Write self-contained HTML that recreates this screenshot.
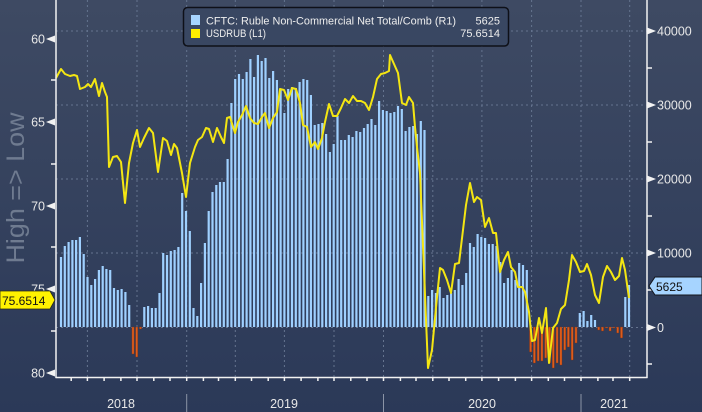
<!DOCTYPE html>
<html><head><meta charset="utf-8"><style>
html,body{margin:0;padding:0;background:#34425e;}
body{width:702px;height:412px;overflow:hidden;}
svg{display:block;font-family:"Liberation Sans",sans-serif;}
</style></head><body>
<svg width="702" height="412" viewBox="0 0 702 412" xmlns="http://www.w3.org/2000/svg">
<defs><linearGradient id="bg" x1="0" y1="0" x2="0" y2="1"><stop offset="0" stop-color="#3e4a63"/><stop offset="1" stop-color="#2b3958"/></linearGradient></defs>
<rect width="702" height="412" fill="url(#bg)"/>
<!-- grid -->
<g stroke="#65748f" stroke-width="1" stroke-dasharray="2 3" fill="none">
<path d="M56 31H647M56 105H647M56 179H647M56 253H647M56 327.5H647"/>
<path d="M87.4 0V377M137 0V377M186.7 0V377M235.3 0V377M284.4 0V377M334 0V377M383.5 0V377M432.8 0V377M481.9 0V377M531.6 0V377M581 0V377M629.7 0V377"/>
</g>
<!-- bars -->
<path fill="#9fd0ff" d="M59.9 257h2.2V327h-2.2zM63.7 246h2.2V327h-2.2zM67.5 242h2.2V327h-2.2zM71.3 240h2.2V327h-2.2zM75 240h2.2V327h-2.2zM78.8 237h2.2V327h-2.2zM82.6 254h2.2V327h-2.2zM86.4 277h2.2V327h-2.2zM90.2 285h2.2V327h-2.2zM94 279h2.2V327h-2.2zM97.8 270h2.2V327h-2.2zM101.6 266h2.2V327h-2.2zM105.3 269h2.2V327h-2.2zM109.1 270h2.2V327h-2.2zM112.9 288h2.2V327h-2.2zM116.7 290h2.2V327h-2.2zM120.5 289h2.2V327h-2.2zM124.3 292h2.2V327h-2.2zM128.1 305h2.2V327h-2.2zM143.2 307h2.2V327h-2.2zM147 306h2.2V327h-2.2zM150.8 308h2.2V327h-2.2zM154.6 308h2.2V327h-2.2zM158.4 293h2.2V327h-2.2zM162.1 253h2.2V327h-2.2zM165.9 255h2.2V327h-2.2zM169.7 251h2.2V327h-2.2zM173.5 250h2.2V327h-2.2zM177.3 247h2.2V327h-2.2zM181.1 193h2.2V327h-2.2zM184.9 211h2.2V327h-2.2zM188.7 231h2.2V327h-2.2zM192.4 308h2.2V327h-2.2zM196.2 316h2.2V327h-2.2zM200 283h2.2V327h-2.2zM203.8 243h2.2V327h-2.2zM207.6 211h2.2V327h-2.2zM211.4 192h2.2V327h-2.2zM215.2 185h2.2V327h-2.2zM218.9 182h2.2V327h-2.2zM222.7 182h2.2V327h-2.2zM226.5 159h2.2V327h-2.2zM230.3 103h2.2V327h-2.2zM234.1 79h2.2V327h-2.2zM237.9 74h2.2V327h-2.2zM241.7 79h2.2V327h-2.2zM245.5 72h2.2V327h-2.2zM249.3 59h2.2V327h-2.2zM253 77h2.2V327h-2.2zM256.8 55h2.2V327h-2.2zM260.6 61h2.2V327h-2.2zM264.4 58h2.2V327h-2.2zM268.2 78h2.2V327h-2.2zM272 71h2.2V327h-2.2zM275.8 80h2.2V327h-2.2zM279.5 89h2.2V327h-2.2zM283.3 113h2.2V327h-2.2zM287.1 89h2.2V327h-2.2zM290.9 87h2.2V327h-2.2zM294.7 88h2.2V327h-2.2zM298.5 82h2.2V327h-2.2zM302.3 79h2.2V327h-2.2zM306.1 80h2.2V327h-2.2zM309.8 95h2.2V327h-2.2zM313.6 125h2.2V327h-2.2zM317.4 124h2.2V327h-2.2zM321.2 123h2.2V327h-2.2zM325 134h2.2V327h-2.2zM328.8 152h2.2V327h-2.2zM332.6 144h2.2V327h-2.2zM336.4 116h2.2V327h-2.2zM340.1 140h2.2V327h-2.2zM343.9 140h2.2V327h-2.2zM347.7 135h2.2V327h-2.2zM351.5 137h2.2V327h-2.2zM355.3 131h2.2V327h-2.2zM359.1 132h2.2V327h-2.2zM362.9 128h2.2V327h-2.2zM366.6 124h2.2V327h-2.2zM370.4 119h2.2V327h-2.2zM374.2 125h2.2V327h-2.2zM378 101h2.2V327h-2.2zM381.8 110h2.2V327h-2.2zM385.6 111h2.2V327h-2.2zM389.4 113h2.2V327h-2.2zM393.2 112h2.2V327h-2.2zM396.9 106h2.2V327h-2.2zM400.7 109h2.2V327h-2.2zM404.5 131h2.2V327h-2.2zM408.3 127h2.2V327h-2.2zM412.1 126h2.2V327h-2.2zM415.9 134h2.2V327h-2.2zM419.7 121h2.2V327h-2.2zM423.4 130h2.2V327h-2.2zM427.2 296h2.2V327h-2.2zM431 290h2.2V327h-2.2zM434.8 293h2.2V327h-2.2zM438.6 287h2.2V327h-2.2zM442.4 298h2.2V327h-2.2zM446.2 295h2.2V327h-2.2zM450 293h2.2V327h-2.2zM453.7 290h2.2V327h-2.2zM457.5 279h2.2V327h-2.2zM461.3 285h2.2V327h-2.2zM465.1 273h2.2V327h-2.2zM468.9 243h2.2V327h-2.2zM472.7 247h2.2V327h-2.2zM476.5 234h2.2V327h-2.2zM480.2 237h2.2V327h-2.2zM484 238h2.2V327h-2.2zM487.8 244h2.2V327h-2.2zM491.6 244h2.2V327h-2.2zM495.4 246h2.2V327h-2.2zM499.2 262h2.2V327h-2.2zM503 283h2.2V327h-2.2zM506.8 278h2.2V327h-2.2zM510.5 270h2.2V327h-2.2zM514.3 280h2.2V327h-2.2zM518.1 263h2.2V327h-2.2zM521.9 265h2.2V327h-2.2zM525.7 270h2.2V327h-2.2zM578.7 313h2.2V327h-2.2zM582.5 311h2.2V327h-2.2zM586.3 321h2.2V327h-2.2zM590.1 315h2.2V327h-2.2zM593.9 320h2.2V327h-2.2zM624.2 297h2.2V327h-2.2zM627.9 285h2.2V327h-2.2z"/>
<path fill="#dd5c1c" stroke="#7a3014" stroke-width="0.4" d="M131.9 327h2.2V354h-2.2zM135.6 327h2.2V357h-2.2zM139.4 327h2.2V329h-2.2zM529.5 327h2.2V352h-2.2zM533.3 327h2.2V363h-2.2zM537.1 327h2.2V361h-2.2zM540.8 327h2.2V361h-2.2zM544.6 327h2.2V358h-2.2zM548.4 327h2.2V363h-2.2zM552.2 327h2.2V368h-2.2zM556 327h2.2V363h-2.2zM559.8 327h2.2V365h-2.2zM563.6 327h2.2V350h-2.2zM567.3 327h2.2V347h-2.2zM571.1 327h2.2V360h-2.2zM574.9 327h2.2V343h-2.2zM597.6 327h2.2V330h-2.2zM601.4 327h2.2V331h-2.2zM605.2 327h2.2V328h-2.2zM609 327h2.2V331h-2.2zM612.8 327h2.2V328h-2.2zM616.6 327h2.2V333h-2.2zM620.4 327h2.2V338h-2.2z"/>
<!-- line -->
<polyline fill="none" stroke="#f4e612" stroke-width="2" stroke-linejoin="round" points="56,78 61,69 65,74 70,76 74,75 77,76 80,89 85,87 88,84 91,87 95,79 99,96 102,83 105,92 107,97 109,167 113,157 117,156 121,162 125,203 129,163 133,143 137,130 140,147 144,138 149,128 153,133 158,172 163,138 167,141 171,155 174,144 177,148 182,173 186,197 190,163 195,147 198,140 202,137 206,128 209,129 213,142 217,128 221,137 224,143 227,118 230,117 235,133 238,122 242,115 246,106 250,118 254,123 258,124 262,117 265,113 269,128 273,118 277,112 280,89 284,90 288,100 292,88 296,89 300,103 303,125 307,127 311,147 315,142 318,149 322,138 325,122 329,104 333,116 337,116 341,108 345,99 349,103 353,96 357,101 361,101 365,103 369,110 373,97 377,79 381,74 385,73 389,71 390,55 394,64 398,73 402,103 406,105 409,97 413,103 415,127 417,147 420,173 428,368 432,350 437,297 440,268 443,270 447,280 451,293 455,264 459,263 463,230 466,205 470,183 474,202 477,197 481,200 485,227 489,218 493,233 496,233 500,272 504,260 508,252 511,267 515,272 518,287 522,287 525,292 529,312 532,341 535,340 539,318 542,333 546,308 549,363 553,328 557,323 561,309 565,305 569,280 572,255 576,262 580,272 584,271 587,264 591,275 595,295 599,303 603,277 607,266 611,272 615,280 619,276 622,258 625,270 629,298"/>
<!-- axes -->
<g stroke="#f2f2f2" stroke-width="1.5" fill="none">
<path d="M56 0V378M647 0V378M55.5 377.5H647.5"/>
<path d="M51 80H56M51 164H56M51 247H56M51 331H56"/>
<path d="M647 68H652M647 142H652M647 216H652M647 290H652M647 364H652"/>
<path d="M71.2 377V381M87.4 377V381M104.1 377V381M120.9 377V381M137 377V381M153.8 377V381M170 377V381M186.7 377V381M203.4 377V381M218.5 377V381M235.3 377V381M251.5 377V381M268.2 377V381M284.4 377V381M301.1 377V381M317.9 377V381M334 377V381M350.8 377V381M367 377V381M383.5 377V381M400.4 377V381M416 377V381M432.8 377V381M449 377V381M465.7 377V381M481.9 377V381M498.6 377V381M515.4 377V381M531.6 377V381M548.3 377V381M564.5 377V381M581 377V381M597.9 377V381M613 377V381M629.7 377V381"/>
</g>
<g fill="#f2f2f2">
<polygon points="46,39 55,35.5 55,42.5"/>
<polygon points="46,122 55,118.5 55,125.5"/>
<polygon points="46,206 55,202.5 55,209.5"/>
<polygon points="46,289 55,285.5 55,292.5"/>
<polygon points="46,373 55,369.5 55,376.5"/>
<polygon points="656,31 647,27.5 647,34.5"/>
<polygon points="656,105 647,101.5 647,108.5"/>
<polygon points="656,179 647,175.5 647,182.5"/>
<polygon points="656,253 647,249.5 647,256.5"/>
<polygon points="656,327.5 647,324 647,331"/>
</g>
<g fill="#e8e8e8" font-size="12.5" text-anchor="end">
<text x="45" y="43.5">60</text>
<text x="45" y="126.5">65</text>
<text x="45" y="210.5">70</text>
<text x="45" y="293.5">75</text>
<text x="45" y="377.5">80</text>
</g>
<g fill="#e8e8e8" font-size="12.5">
<text x="657" y="35.5">40000</text>
<text x="657" y="109.5">30000</text>
<text x="657" y="183.5">20000</text>
<text x="657" y="257.5">10000</text>
<text x="657" y="332">0</text>
</g>
<!-- year separators -->
<path d="M186.7 394V412M383.5 394V412M581 394V412" stroke="#8b94a6" stroke-width="1"/>
<g fill="#e8e8e8" font-size="12.5" text-anchor="middle">
<text x="121" y="408">2018</text>
<text x="284" y="408">2019</text>
<text x="482" y="408">2020</text>
<text x="614" y="408">2021</text>
</g>
<!-- y title -->
<text transform="translate(24,188) rotate(-90)" text-anchor="middle" font-size="25" fill="#6f7b90" textLength="151" lengthAdjust="spacingAndGlyphs">High =&gt; Low</text>
<!-- legend -->
<rect x="183.5" y="7.5" width="325" height="38.5" rx="4" fill="#394762" stroke="#0e1018" stroke-width="1.5"/>
<rect x="191" y="15" width="9" height="10" fill="#a6d4ff"/>
<rect x="191" y="29" width="9" height="9" fill="#ffee00"/>
<g fill="#eeeeee" font-size="11">
<text x="206" y="24.5" textLength="250" lengthAdjust="spacingAndGlyphs">CFTC: Ruble Non-Commercial Net Total/Comb (R1)</text>
<text x="206" y="37" textLength="60" lengthAdjust="spacingAndGlyphs">USDRUB (L1)</text>
<text x="500" y="24.5" text-anchor="end">5625</text>
<text x="500" y="37" text-anchor="end">75.6514</text>
</g>
<!-- value labels -->
<polygon points="0,291 50,291 55,300 50,309 0,309" fill="#fff200" stroke="#2a2a1a" stroke-width="0.8"/>
<text x="2" y="305" font-size="12" fill="#111">75.6514</text>
<polygon points="649,286 655,277 702,277 702,295 655,295" fill="#a6d4ff" stroke="#14161c" stroke-width="1"/>
<text x="656" y="291" font-size="12" fill="#111">5625</text>
</svg>
</body></html>
